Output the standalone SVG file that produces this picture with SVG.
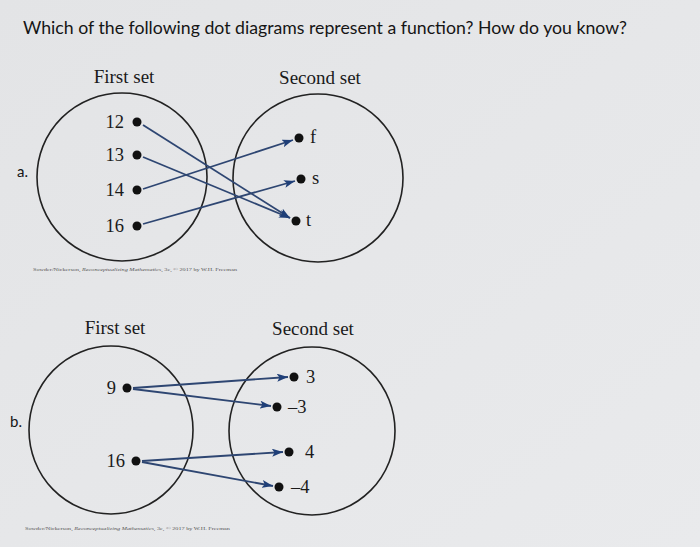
<svg xmlns="http://www.w3.org/2000/svg" width="700" height="547" viewBox="0 0 700 547">
<defs>
<style>
.serif{font-family:"Liberation Serif","Times New Roman",serif;fill:#1a1a1a}
.hd{font-size:19px}
.lb{font-size:18.5px}
.sans{font-family:Lato,"Liberation Sans",sans-serif;fill:#151515}
.set{fill:none;stroke:#222;stroke-width:1.6}
.dot{fill:#111}
.arr{stroke:#2e4672;stroke-width:1.8;fill:none;marker-end:url(#ah)}
.cr{font-family:"Liberation Serif",serif;font-size:5px;fill:#555}
</style>
<marker id="ah" viewBox="0 0 11 8" refX="11" refY="4" markerWidth="11" markerHeight="8" markerUnits="userSpaceOnUse" orient="auto">
<path d="M0,0 L11,4 L0,8 L2.5,4 Z" fill="#1f3f78"/>
</marker>
<linearGradient id="bg" x1="0" y1="0" x2="1" y2="1">
<stop offset="0" stop-color="#e3e4e6"/>
<stop offset="1" stop-color="#e9eaec"/>
</linearGradient>
</defs>
<rect width="700" height="547" fill="url(#bg)"/>
<text class="sans" x="23" y="34" font-size="17.5" textLength="604" lengthAdjust="spacingAndGlyphs">Which of the following dot diagrams represent a function? How do you know?</text>

<g id="part-a">
<text class="sans" x="17" y="177" font-size="15">a.</text>
<text class="serif hd" x="124" y="83" text-anchor="middle">First set</text>
<text class="serif hd" x="320" y="84" text-anchor="middle">Second set</text>
<g id="a-first"><ellipse class="set" cx="122" cy="177" rx="85" ry="84"/></g>
<g id="a-second"><ellipse class="set" cx="318" cy="178" rx="85" ry="84"/></g>
<g id="a12"><circle class="dot" cx="137" cy="122" r="4.5"/><text class="serif lb" x="124" y="128" text-anchor="end">12</text></g>
<g id="a13"><circle class="dot" cx="137" cy="155" r="4.5"/><text class="serif lb" x="124" y="161" text-anchor="end">13</text></g>
<g id="a14"><circle class="dot" cx="137" cy="190" r="4.5"/><text class="serif lb" x="124" y="196" text-anchor="end">14</text></g>
<g id="a16"><circle class="dot" cx="137" cy="226" r="4.5"/><text class="serif lb" x="124" y="232" text-anchor="end">16</text></g>
<g id="af"><circle class="dot" cx="299" cy="138" r="4.5"/><text class="serif lb" x="310" y="143">f</text></g>
<g id="as"><circle class="dot" cx="301" cy="179" r="4.5"/><text class="serif lb" x="312" y="184">s</text></g>
<g id="at"><circle class="dot" cx="296" cy="221" r="4.5"/><text class="serif lb" x="306" y="226">t</text></g>
<text class="cr" x="33" y="271" textLength="204" lengthAdjust="spacingAndGlyphs">Sowder/Nickerson, <tspan font-style="italic">Reconceptualizing Mathematics</tspan>, 3e, © 2017 by W.H. Freeman</text>
</g>

<g id="part-b">
<text class="sans" x="10" y="427" font-size="15">b.</text>
<text class="serif hd" x="115" y="334" text-anchor="middle">First set</text>
<text class="serif hd" x="313" y="335" text-anchor="middle">Second set</text>
<g id="b-first"><ellipse class="set" cx="111" cy="430" rx="82" ry="84"/></g>
<g id="b-second"><ellipse class="set" cx="312" cy="431" rx="83" ry="84"/></g>
<g id="b9"><circle class="dot" cx="127" cy="388" r="4.5"/><text class="serif lb" x="116" y="394" text-anchor="end">9</text></g>
<g id="b16"><circle class="dot" cx="136" cy="461" r="4.5"/><text class="serif lb" x="125" y="467" text-anchor="end">16</text></g>
<g id="b3"><circle class="dot" cx="294" cy="377" r="4.5"/><text class="serif lb" x="306" y="383">3</text></g>
<g id="bm3"><circle class="dot" cx="277" cy="407" r="4.5"/><text class="serif lb" x="288" y="413">–3</text></g>
<g id="b4"><circle class="dot" cx="289" cy="452" r="4.5"/><text class="serif lb" x="305" y="458">4</text></g>
<g id="bm4"><circle class="dot" cx="279" cy="487" r="4.5"/><text class="serif lb" x="291" y="493">–4</text></g>
<text class="cr" x="25" y="530" textLength="205" lengthAdjust="spacingAndGlyphs">Sowder/Nickerson, <tspan font-style="italic">Reconceptualizing Mathematics</tspan>, 3e, © 2017 by W.H. Freeman</text>
</g>

<g id="connectors">
<line class="arr" x1="143" y1="125" x2="290" y2="218"/>
<line class="arr" x1="143" y1="157" x2="290" y2="218"/>
<line class="arr" x1="143" y1="189" x2="293" y2="140"/>
<line class="arr" x1="143" y1="224" x2="295" y2="181"/>
<line class="arr" x1="133" y1="388" x2="288" y2="377"/>
<line class="arr" x1="133" y1="389" x2="271" y2="406"/>
<line class="arr" x1="142" y1="461" x2="283" y2="452"/>
<line class="arr" x1="142" y1="462" x2="273" y2="486"/>
</g>
</svg>
